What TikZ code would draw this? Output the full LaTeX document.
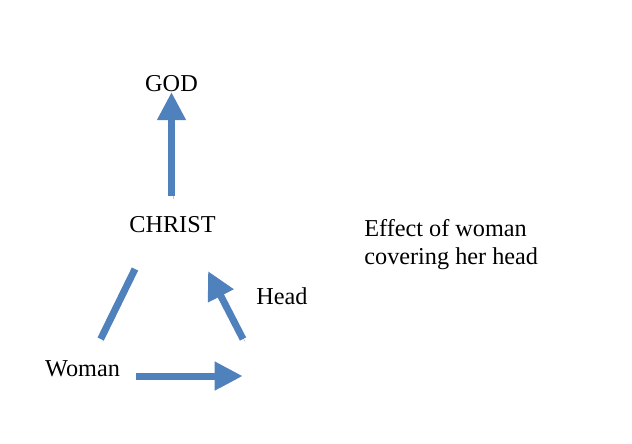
\documentclass[tikz,border=0pt]{standalone}
\usepackage{fontspec}
\setmainfont{Liberation Serif}
\usepackage{xcolor}
\usetikzlibrary{arrows.meta}
\definecolor{arrowblue}{HTML}{4F81BD}
\begin{document}
\begin{tikzpicture}[scale=0.2]
\tikzstyle{every node}+=[inner sep=0pt, font=\fontsize{13.8}{16}\selectfont]
\tikzstyle{bar}=[arrowblue, line width=0.14cm, preaction={draw=black!22, transform canvas={shift={(0.04cm,-0.05cm)}}}]
\tikzstyle{blockarrow}=[bar, -{Triangle[width=0.54cm,length=0.56cm]}]
\useasboundingbox (0,0) rectangle (63.2,-44.3);
\draw (17.15,-8.35) node (god) {GOD};
\draw (17.25,-22.45) node (christ) {CHRIST};
\draw (8.25,-36.85) node (woman) {Woman};
\draw (28.2,-29.65) node (head) {Head};
\draw (36.4,-21.9) node [anchor=north west, align=left] (effect) {Effect of woman\\covering her head};
\coordinate (wc1) at (13.5,-26.9);
\coordinate (wc2) at (10.07,-33.9);
\coordinate (hc1) at (24.3,-33.9);
\coordinate (hc2) at (20.8,-27.1);
\coordinate (wh1) at (13.57,-37.6);
\coordinate (wh2) at (24.27,-37.6);
\draw [blockarrow, shorten <=0.4cm] (god.south |- christ.north) -- (god.south);
\draw [bar] (wc1) -- (wc2);
\draw [blockarrow] (hc1) -- (hc2);
\draw [blockarrow] (wh1) -- (wh2);
\end{tikzpicture}
\end{document}
